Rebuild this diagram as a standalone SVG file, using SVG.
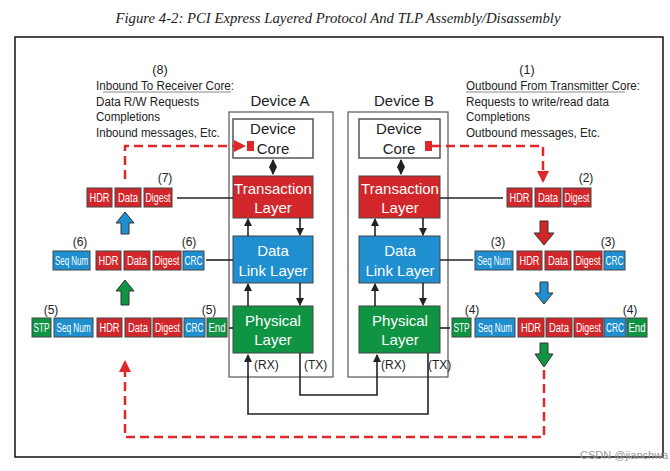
<svg xmlns="http://www.w3.org/2000/svg" width="670" height="471" viewBox="0 0 670 471">
<style>
.t{font-family:"Liberation Sans",Arial,sans-serif;fill:#222}
.pk{font-family:"Liberation Sans",Arial,sans-serif;fill:#fff;font-size:12px;text-anchor:middle}
.ly{font-family:"Liberation Sans",Arial,sans-serif;fill:#fff;font-size:15px;text-anchor:middle}
.r{fill:#d3262a;stroke:#444;stroke-width:1}
.b{fill:#1f8fd0;stroke:#444;stroke-width:1}
.g{fill:#0f9444;stroke:#444;stroke-width:1}
.ln{stroke:#222;stroke-width:1.6;fill:none}
.dash{stroke:#e0282a;stroke-width:2.5;fill:none;stroke-dasharray:9,5}
</style>
<defs>
<marker id="ah" markerWidth="8" markerHeight="8" refX="7" refY="4" orient="auto" markerUnits="userSpaceOnUse"><path d="M0,0 L8,4 L0,8 z" fill="#222"/></marker>
<marker id="ahs" markerWidth="8" markerHeight="8" refX="7" refY="4" orient="auto-start-reverse" markerUnits="userSpaceOnUse"><path d="M0,0 L8,4 L0,8 z" fill="#222"/></marker>
<marker id="rh" markerWidth="12" markerHeight="12" refX="10" refY="6" orient="auto" markerUnits="userSpaceOnUse"><path d="M0,0 L12,6 L0,12 z" fill="#e0282a"/></marker>
</defs>
<rect width="670" height="471" fill="#fff"/>
<text x="338" y="23" text-anchor="middle" textLength="445" lengthAdjust="spacingAndGlyphs" style="font-family:'Liberation Serif',serif;font-style:italic;font-size:15px;fill:#222">Figure 4-2: PCI Express Layered Protocol And TLP Assembly/Disassembly</text>
<rect x="15" y="37" width="648" height="420" fill="none" stroke="#111" stroke-width="1.5"/>
<text x="580" y="459" style="font-family:'Liberation Sans',sans-serif;font-size:11px;fill:#999">CSDN @jianchwa</text>

<g id="text8" class="t" font-size="12.5">
<text x="160" y="74" text-anchor="middle">(8)</text>
<text x="96" y="90" textLength="138" lengthAdjust="spacingAndGlyphs">Inbound To Receiver Core:</text>
<line x1="103" y1="92" x2="231" y2="92" stroke="#888" stroke-width="1"/>
<text x="96" y="106" textLength="103" lengthAdjust="spacingAndGlyphs">Data R/W Requests</text>
<text x="96" y="121" textLength="64" lengthAdjust="spacingAndGlyphs">Completions</text>
<text x="96" y="137" textLength="124" lengthAdjust="spacingAndGlyphs">Inbound messages, Etc.</text>
</g>
<g id="text1" class="t" font-size="12.5">
<text x="527" y="74" text-anchor="middle">(1)</text>
<text x="466" y="90" textLength="174" lengthAdjust="spacingAndGlyphs">Outbound From Transmitter Core:</text>
<line x1="466" y1="92" x2="625" y2="92" stroke="#888" stroke-width="1"/>
<text x="466" y="106" textLength="143" lengthAdjust="spacingAndGlyphs">Requests to write/read data</text>
<text x="466" y="121" textLength="64" lengthAdjust="spacingAndGlyphs">Completions</text>
<text x="466" y="137" textLength="134" lengthAdjust="spacingAndGlyphs">Outbound messages, Etc.</text>
</g>

<g id="deviceA">
<text x="280" y="106" class="t" font-size="15" text-anchor="middle">Device A</text>
<rect x="229" y="112" width="104" height="265" fill="#fff" stroke="#555" stroke-width="1.2"/>
<rect x="233" y="119" width="80" height="39" fill="#fff" stroke="#555" stroke-width="1.5"/>
<text x="273" y="134" class="t" font-size="15" text-anchor="middle">Device</text>
<text x="273" y="154" class="t" font-size="15" text-anchor="middle">Core</text>
<rect x="233" y="176" width="80" height="42" class="r"/>
<text x="273" y="194" class="ly">Transaction</text><text x="273" y="213" class="ly">Layer</text>
<rect x="233" y="236" width="80" height="47" class="b"/>
<text x="273" y="256" class="ly">Data</text><text x="273" y="276" class="ly">Link Layer</text>
<rect x="233" y="306" width="80" height="47" class="g"/>
<text x="273" y="326" class="ly">Physical</text><text x="273" y="345" class="ly">Layer</text>
<text x="254" y="369" class="t" font-size="12">(RX)</text>
<text x="304" y="369" class="t" font-size="12">(TX)</text>
</g>
<g id="deviceB">
<text x="404" y="106" class="t" font-size="15" text-anchor="middle">Device B</text>
<rect x="348" y="112" width="100" height="265" fill="#fff" stroke="#555" stroke-width="1.2"/>
<rect x="359" y="119" width="81" height="39" fill="#fff" stroke="#555" stroke-width="1.5"/>
<text x="399" y="134" class="t" font-size="15" text-anchor="middle">Device</text>
<text x="399" y="154" class="t" font-size="15" text-anchor="middle">Core</text>
<rect x="359" y="176" width="81" height="42" class="r"/>
<text x="400" y="194" class="ly">Transaction</text><text x="400" y="213" class="ly">Layer</text>
<rect x="359" y="236" width="81" height="47" class="b"/>
<text x="400" y="256" class="ly">Data</text><text x="400" y="276" class="ly">Link Layer</text>
<rect x="359" y="306" width="81" height="47" class="g"/>
<text x="400" y="326" class="ly">Physical</text><text x="400" y="345" class="ly">Layer</text>
<text x="381" y="369" class="t" font-size="12">(RX)</text>
<text x="428" y="369" class="t" font-size="12">(TX)</text>
</g>

<g id="pkt7">
<rect x="87" y="188" width="25" height="19" class="r"/><text x="99.5" y="202" class="pk" textLength="20" lengthAdjust="spacingAndGlyphs">HDR</text>
<rect x="115" y="188" width="26" height="19" class="r"/><text x="128" y="202" class="pk" textLength="20" lengthAdjust="spacingAndGlyphs">Data</text>
<rect x="144" y="188" width="28" height="19" class="r"/><text x="158" y="202" class="pk" textLength="25" lengthAdjust="spacingAndGlyphs">Digest</text>
<text x="165" y="182" class="t" font-size="12" text-anchor="middle">(7)</text>
</g>
<g id="pkt6">
<rect x="53" y="251" width="37" height="19" class="b"/><text x="71.5" y="265" class="pk" textLength="33" lengthAdjust="spacingAndGlyphs">Seq Num</text>
<rect x="96" y="251" width="25" height="19" class="r"/><text x="108.5" y="265" class="pk" textLength="20" lengthAdjust="spacingAndGlyphs">HDR</text>
<rect x="124" y="251" width="26" height="19" class="r"/><text x="137" y="265" class="pk" textLength="20" lengthAdjust="spacingAndGlyphs">Data</text>
<rect x="153" y="251" width="28" height="19" class="r"/><text x="167" y="265" class="pk" textLength="25" lengthAdjust="spacingAndGlyphs">Digest</text>
<rect x="183" y="251" width="21" height="19" class="b"/><text x="193.5" y="265" class="pk" textLength="18" lengthAdjust="spacingAndGlyphs">CRC</text>
<text x="80" y="246" class="t" font-size="12" text-anchor="middle">(6)</text>
<text x="189" y="246" class="t" font-size="12" text-anchor="middle">(6)</text>
</g>
<g id="pkt5">
<rect x="32" y="318" width="19" height="19" class="g"/><text x="41.5" y="332" class="pk" textLength="16" lengthAdjust="spacingAndGlyphs">STP</text>
<rect x="54" y="318" width="39" height="19" class="b"/><text x="73.5" y="332" class="pk" textLength="34" lengthAdjust="spacingAndGlyphs">Seq Num</text>
<rect x="97" y="318" width="25" height="19" class="r"/><text x="109.5" y="332" class="pk" textLength="20" lengthAdjust="spacingAndGlyphs">HDR</text>
<rect x="125" y="318" width="26" height="19" class="r"/><text x="138" y="332" class="pk" textLength="20" lengthAdjust="spacingAndGlyphs">Data</text>
<rect x="153" y="318" width="29" height="19" class="r"/><text x="167.5" y="332" class="pk" textLength="25" lengthAdjust="spacingAndGlyphs">Digest</text>
<rect x="184" y="318" width="21" height="19" class="b"/><text x="194.5" y="332" class="pk" textLength="18" lengthAdjust="spacingAndGlyphs">CRC</text>
<rect x="207" y="318" width="20" height="19" class="g"/><text x="217" y="332" class="pk" textLength="17" lengthAdjust="spacingAndGlyphs">End</text>
<text x="51" y="314" class="t" font-size="12" text-anchor="middle">(5)</text>
<text x="209" y="314" class="t" font-size="12" text-anchor="middle">(5)</text>
</g>
<g id="pkt2">
<rect x="507" y="188" width="25" height="19" class="r"/><text x="519.5" y="202" class="pk" textLength="20" lengthAdjust="spacingAndGlyphs">HDR</text>
<rect x="535" y="188" width="26" height="19" class="r"/><text x="548" y="202" class="pk" textLength="20" lengthAdjust="spacingAndGlyphs">Data</text>
<rect x="563" y="188" width="28" height="19" class="r"/><text x="577" y="202" class="pk" textLength="25" lengthAdjust="spacingAndGlyphs">Digest</text>
<text x="586" y="182" class="t" font-size="12" text-anchor="middle">(2)</text>
</g>
<g id="pkt3">
<rect x="475" y="251" width="38" height="19" class="b"/><text x="494" y="265" class="pk" textLength="33" lengthAdjust="spacingAndGlyphs">Seq Num</text>
<rect x="517" y="251" width="25" height="19" class="r"/><text x="529.5" y="265" class="pk" textLength="20" lengthAdjust="spacingAndGlyphs">HDR</text>
<rect x="545" y="251" width="26" height="19" class="r"/><text x="558" y="265" class="pk" textLength="20" lengthAdjust="spacingAndGlyphs">Data</text>
<rect x="574" y="251" width="28" height="19" class="r"/><text x="588" y="265" class="pk" textLength="25" lengthAdjust="spacingAndGlyphs">Digest</text>
<rect x="604" y="251" width="21" height="19" class="b"/><text x="614.5" y="265" class="pk" textLength="18" lengthAdjust="spacingAndGlyphs">CRC</text>
<text x="498" y="246" class="t" font-size="12" text-anchor="middle">(3)</text>
<text x="608" y="246" class="t" font-size="12" text-anchor="middle">(3)</text>
</g>
<g id="pkt4">
<rect x="452" y="318" width="19" height="19" class="g"/><text x="461.5" y="332" class="pk" textLength="16" lengthAdjust="spacingAndGlyphs">STP</text>
<rect x="475" y="318" width="40" height="19" class="b"/><text x="495" y="332" class="pk" textLength="34" lengthAdjust="spacingAndGlyphs">Seq Num</text>
<rect x="518" y="318" width="26" height="19" class="r"/><text x="531" y="332" class="pk" textLength="20" lengthAdjust="spacingAndGlyphs">HDR</text>
<rect x="546" y="318" width="26" height="19" class="r"/><text x="559" y="332" class="pk" textLength="20" lengthAdjust="spacingAndGlyphs">Data</text>
<rect x="574" y="318" width="29" height="19" class="r"/><text x="588.5" y="332" class="pk" textLength="25" lengthAdjust="spacingAndGlyphs">Digest</text>
<rect x="604" y="318" width="22" height="19" class="b"/><text x="615" y="332" class="pk" textLength="18" lengthAdjust="spacingAndGlyphs">CRC</text>
<rect x="627" y="318" width="20" height="19" class="g"/><text x="637" y="332" class="pk" textLength="17" lengthAdjust="spacingAndGlyphs">End</text>
<text x="472" y="314" class="t" font-size="12" text-anchor="middle">(4)</text>
<text x="630" y="314" class="t" font-size="12" text-anchor="middle">(4)</text>
</g>

<g id="connectors">
<line x1="273" y1="160" x2="273" y2="174" class="ln" marker-start="url(#ahs)" marker-end="url(#ah)"/>
<line x1="401" y1="160" x2="401" y2="174" class="ln" marker-start="url(#ahs)" marker-end="url(#ah)"/>
<line x1="248" y1="236" x2="248" y2="219" class="ln" marker-end="url(#ah)"/>
<line x1="300" y1="218" x2="300" y2="235" class="ln" marker-end="url(#ah)"/>
<line x1="248" y1="306" x2="248" y2="284" class="ln" marker-end="url(#ah)"/>
<line x1="300" y1="283" x2="300" y2="305" class="ln" marker-end="url(#ah)"/>
<line x1="375" y1="236" x2="375" y2="219" class="ln" marker-end="url(#ah)"/>
<line x1="423" y1="218" x2="423" y2="235" class="ln" marker-end="url(#ah)"/>
<line x1="375" y1="306" x2="375" y2="284" class="ln" marker-end="url(#ah)"/>
<line x1="423" y1="283" x2="423" y2="305" class="ln" marker-end="url(#ah)"/>
<polyline points="300,353 300,395 377,395 377,355" class="ln" marker-end="url(#ah)"/>
<polyline points="428,353 428,414 248,414 248,355" class="ln" marker-end="url(#ah)"/>
<line x1="177" y1="198" x2="233" y2="198" class="ln"/>
<line x1="440" y1="198" x2="503" y2="198" class="ln"/>
<line x1="206" y1="260" x2="233" y2="260" class="ln"/>
<line x1="440" y1="260" x2="473" y2="260" class="ln"/>
<line x1="229" y1="328" x2="233" y2="328" class="ln"/>
<line x1="440" y1="328" x2="450" y2="328" class="ln"/>
<rect x="247" y="141" width="7" height="10" fill="#e0282a"/>
<rect x="425" y="141" width="7" height="10" fill="#e0282a"/>
<polyline points="125,179 125,146 244,146" class="dash" marker-end="url(#rh)"/>
<polyline points="432,146 543,146 543,181" class="dash" marker-end="url(#rh)"/>
<polyline points="544,370 544,437 125,437 125,362" class="dash" marker-end="url(#rh)"/>
<path d="M125,212 L134,223 L129,223 L129,234 L121,234 L121,223 L116,223 Z" fill="#1f8fd0" stroke="#333" stroke-width="1"/>
<path d="M125,280 L134,291 L129,291 L129,305 L121,305 L121,291 L116,291 Z" fill="#0f9444" stroke="#333" stroke-width="1"/>
<path d="M540,221 L548,221 L548,233 L554,233 L544,245 L534,233 L540,233 Z" fill="#d3262a" stroke="#333" stroke-width="1"/>
<path d="M540,282 L548,282 L548,293 L553,293 L544,304 L535,293 L540,293 Z" fill="#1f8fd0" stroke="#333" stroke-width="1"/>
<path d="M540,343 L548,343 L548,354 L553,354 L544,367 L535,354 L540,354 Z" fill="#0f9444" stroke="#333" stroke-width="1"/>
</g>
</svg>
